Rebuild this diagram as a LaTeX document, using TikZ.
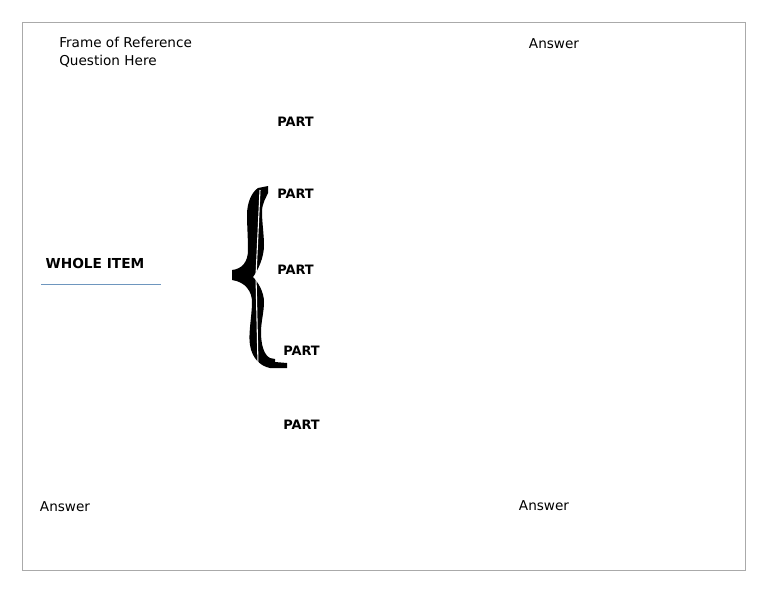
\documentclass[tikz,border=0pt]{standalone}
\usepackage{fontspec}
\setmainfont{DejaVu Sans}
\usetikzlibrary{positioning}
\definecolor{framegray}{RGB}{170,170,170}
\definecolor{lineblue}{RGB}{110,150,190}

\begin{document}
\begin{tikzpicture}[x=0.75pt,y=-0.75pt,font=\fontsize{10.2}{13.5}\selectfont,
  part/.style={font=\fontsize{9.7}{12}\selectfont\bfseries,inner sep=0pt},
  answer/.style={inner sep=0pt}]
\useasboundingbox (0,0) rectangle (768,594);
\draw[framegray] (22,22) rectangle (745,570);
\node[anchor=north west,align=left,inner sep=0pt] (question) at (59,37) {Frame of Reference\\Question Here};
\node[answer] (answer1) at (554,44) {Answer};
\node[answer] (answer2) at (65,507) {Answer};
\node[answer] (answer3) at (544,506) {Answer};
\node[part,font=\fontsize{10.3}{12}\selectfont\bfseries] (whole) at (95,263) {WHOLE ITEM};
\coordinate (ul1) at (41,284);
\coordinate (ul2) at (161,284);
\draw[lineblue] (ul1) -- (ul2);
\node[part] (part1) at (295.5,122) {PART};
\node[part] (part2) at (295.5,194) {PART};
\node[part] (part3) at (295.5,270) {PART};
\node[part] (part4) at (301.5,351) {PART};
\node[part] (part5) at (301.5,425) {PART};
% the brace
\fill (268,186) -- (268,193) .. controls (266,198) and (262,203) .. (262,212)
 .. controls (262,222) and (264,235) .. (264,245)
 .. controls (264,258) and (258,270) .. (253,277)
 .. controls (258,282) and (264,292) .. (264,302)
 .. controls (264,312) and (261,322) .. (261,332)
 .. controls (261,345) and (264,355) .. (270,358)
 -- (275,359) -- (275,362) -- (287,363) -- (287,368) -- (270,368)
 .. controls (260,366) and (252,358) .. (250,345)
 .. controls (248,335) and (252,315) .. (252,302)
 .. controls (252,292) and (246,282) .. (232,280)
 -- (232,270)
 .. controls (242,269) and (248,262) .. (248,250)
 .. controls (248,238) and (247,225) .. (247,215)
 .. controls (247,202) and (252,192) .. (258,188) -- cycle;
\coordinate (bt) at (260,190);
\coordinate (bm) at (256,276);
\coordinate (bb) at (258,364);
\draw[white,line width=0.8pt] (bt) -- (bm) -- (bb);
\end{tikzpicture}
\end{document}
